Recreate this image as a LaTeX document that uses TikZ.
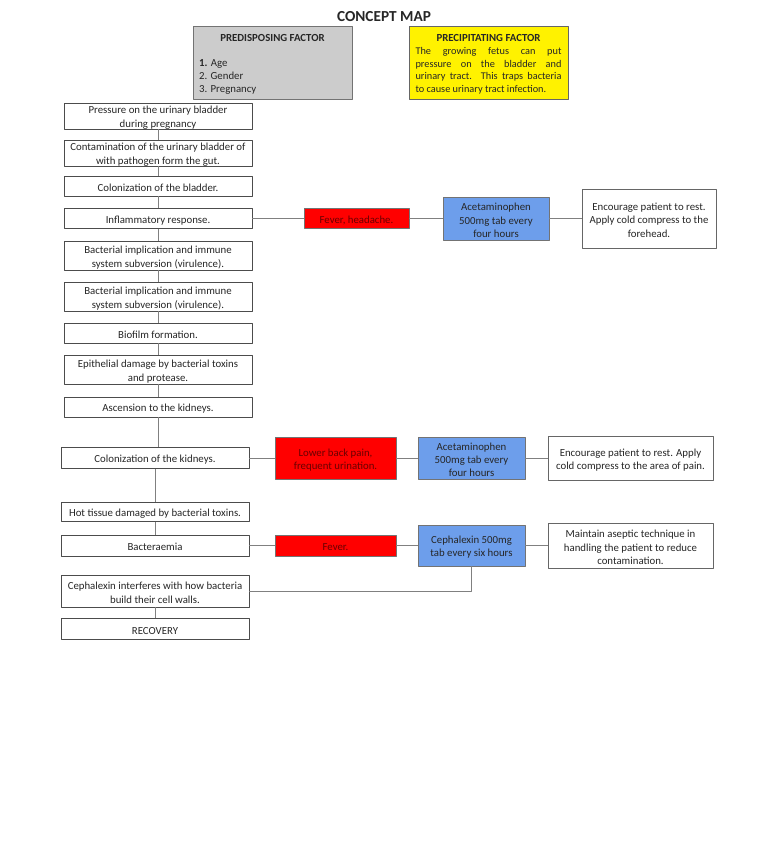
\documentclass[tikz,border=0pt]{standalone}
\usepackage{fontspec}
\setmainfont{Carlito}
\usetikzlibrary{positioning}
\definecolor{signred}{HTML}{FF0000}
\definecolor{signtext}{HTML}{6A0000}
\definecolor{drugblue}{HTML}{6D9EEB}
\definecolor{factorgray}{HTML}{CCCCCC}
\newcommand{\mapfont}{\fontsize{10.8}{13.3}\selectfont}
\newcommand{\chainfont}{\fontsize{10.8}{14}\selectfont}
\tikzset{
  boxtext/.style={font=\mapfont, align=center, text=black!85, inner sep=0pt, yshift=-1.8pt},
  stepbox/.style={draw=black!70, fill=white, inner sep=0pt, minimum width=188pt,
    label={[boxtext, font=\chainfont]center:#1}},
  signbox/.style={draw=black!55, fill=signred, inner sep=0pt,
    label={[boxtext, text=signtext]center:#1}},
  drugbox/.style={draw=black!55, fill=drugblue, inner sep=0pt, label={[boxtext]center:#1}},
  carebox/.style={draw=black!60, fill=white, inner sep=0pt, label={[boxtext]center:#1}},
  link/.style={draw=black!50, line width=0.8pt},
}
\begin{document}
\begin{tikzpicture}[x=1pt,y=-1pt,line join=round]
\useasboundingbox[fill=white] (0,0) rectangle (768,866);
% title and factors
\node[font=\fontsize{15.3}{17}\selectfont\bfseries, text=black!85] (title) at (384,16.5) {CONCEPT MAP};
\node[draw=black!55, fill=factorgray, minimum width=159pt, minimum height=73pt] (pre) at (272.5,62.5) {};
\node[font=\mapfont\bfseries, text=black!85] (pretitle) at (272.5,37.5) {PREDISPOSING FACTOR};
\node[font=\fontsize{10.8}{13}\selectfont, text=black!85, align=left, anchor=north west, inner sep=0pt] (prelist) at (199,59)
  {\textbf{1.} Age\\2. Gender\\3. Pregnancy};
\node[draw=black!60, fill=yellow, minimum width=159pt, minimum height=73pt] (pcp) at (488.5,62.5) {};
\node[font=\mapfont\bfseries, text=black!85] (pcptitle) at (488.5,37.5) {PRECIPITATING FACTOR};
\node[font=\fontsize{10.3}{12.7}\selectfont, text=black!85, text width=146pt, align=justify, anchor=north, inner sep=0pt] (pcptext) at (488.5,47)
  {The growing fetus can put\linebreak pressure on the bladder and\linebreak urinary tract. This traps bacteria\linebreak to cause urinary tract infection.};
% main chain
\node[stepbox={Pressure on the urinary bladder\\during pregnancy}, minimum height=26pt] (s1) at (158,116) {};
\node[stepbox={Contamination of the urinary bladder of\\with pathogen form the gut.}, minimum height=26pt] (s2) at (158,153) {};
\node[stepbox={Colonization of the bladder.}, minimum height=20pt] (s3) at (158,186) {};
\node[stepbox={Inflammatory response.}, minimum height=20pt] (s4) at (158,218.5) {};
\node[stepbox={Bacterial implication and immune\\system subversion (virulence).}, minimum height=29pt] (s5) at (158,255.5) {};
\node[stepbox={Bacterial implication and immune\\system subversion (virulence).}, minimum height=29pt] (s6) at (158,296.5) {};
\node[stepbox={Biofilm formation.}, minimum height=20pt] (s7) at (158,333) {};
\node[stepbox={Epithelial damage by bacterial toxins\\and protease.}, minimum height=29pt] (s8) at (158,369.5) {};
\node[stepbox={Ascension to the kidneys.}, minimum height=20pt] (s9) at (158,407) {};
\node[stepbox={Colonization of the kidneys.}, minimum height=21pt] (s10) at (155,458) {};
\node[stepbox={Hot tissue damaged by bacterial toxins.}, minimum height=19pt] (s11) at (155,512) {};
\node[stepbox={Bacteraemia}, minimum height=21pt] (s12) at (155,545.5) {};
\node[stepbox={Cephalexin interferes with how bacteria\\build their cell walls.}, minimum height=32pt] (s13) at (155,591) {};
\node[stepbox={RECOVERY}, minimum height=21pt] (s14) at (155,629) {};
\foreach \a/\b in {s1/s2,s2/s3,s3/s4,s4/s5,s5/s6,s6/s7,s7/s8,s8/s9,s10/s11,s11/s12,s13/s14}
  \draw[link] (\a) -- (\b);
\draw[link] (s9.south) -- (s9.south |- s10.north);
% inflammatory response
\node[signbox={Fever, headache.}, minimum width=105pt, minimum height=20pt] (f1) at (356.5,218.5) {};
\node[drugbox={Acetaminophen\\500mg tab every\\four hours}, minimum width=106pt, minimum height=43pt] (a1) at (496,218.5) {};
\node[carebox={Encourage patient to rest.\\Apply cold compress to the\\forehead.}, minimum width=134pt, minimum height=59pt] (c1) at (649,218.5) {};
\draw[link] (s4) -- (f1) (f1) -- (a1) (a1) -- (c1);
% kidneys
\node[signbox={Lower back pain,\\frequent urination.}, minimum width=121pt, minimum height=42pt] (f2) at (335.5,458) {};
\node[drugbox={Acetaminophen\\500mg tab every\\four hours}, minimum width=107pt, minimum height=42pt] (a2) at (471.5,458) {};
\node[carebox={Encourage patient to rest. Apply\\cold compress to the area of pain.}, minimum width=165pt, minimum height=44pt] (c2) at (630.5,458) {};
\draw[link] (s10) -- (f2) (f2) -- (a2) (a2) -- (c2);
% bacteraemia
\node[signbox={Fever.}, minimum width=121pt, minimum height=21pt] (f3) at (335.5,545.5) {};
\node[drugbox={Cephalexin 500mg\\tab every six hours}, minimum width=107pt, minimum height=41pt] (a3) at (471.5,545.5) {};
\node[carebox={Maintain aseptic technique in\\handling the patient to reduce\\contamination.}, minimum width=165pt, minimum height=45pt] (c3) at (630.5,545.5) {};
\draw[link] (s12) -- (f3) (f3) -- (a3) (a3) -- (c3);
\draw[link] (a3.south) |- (s13.east);
\end{tikzpicture}
\end{document}
